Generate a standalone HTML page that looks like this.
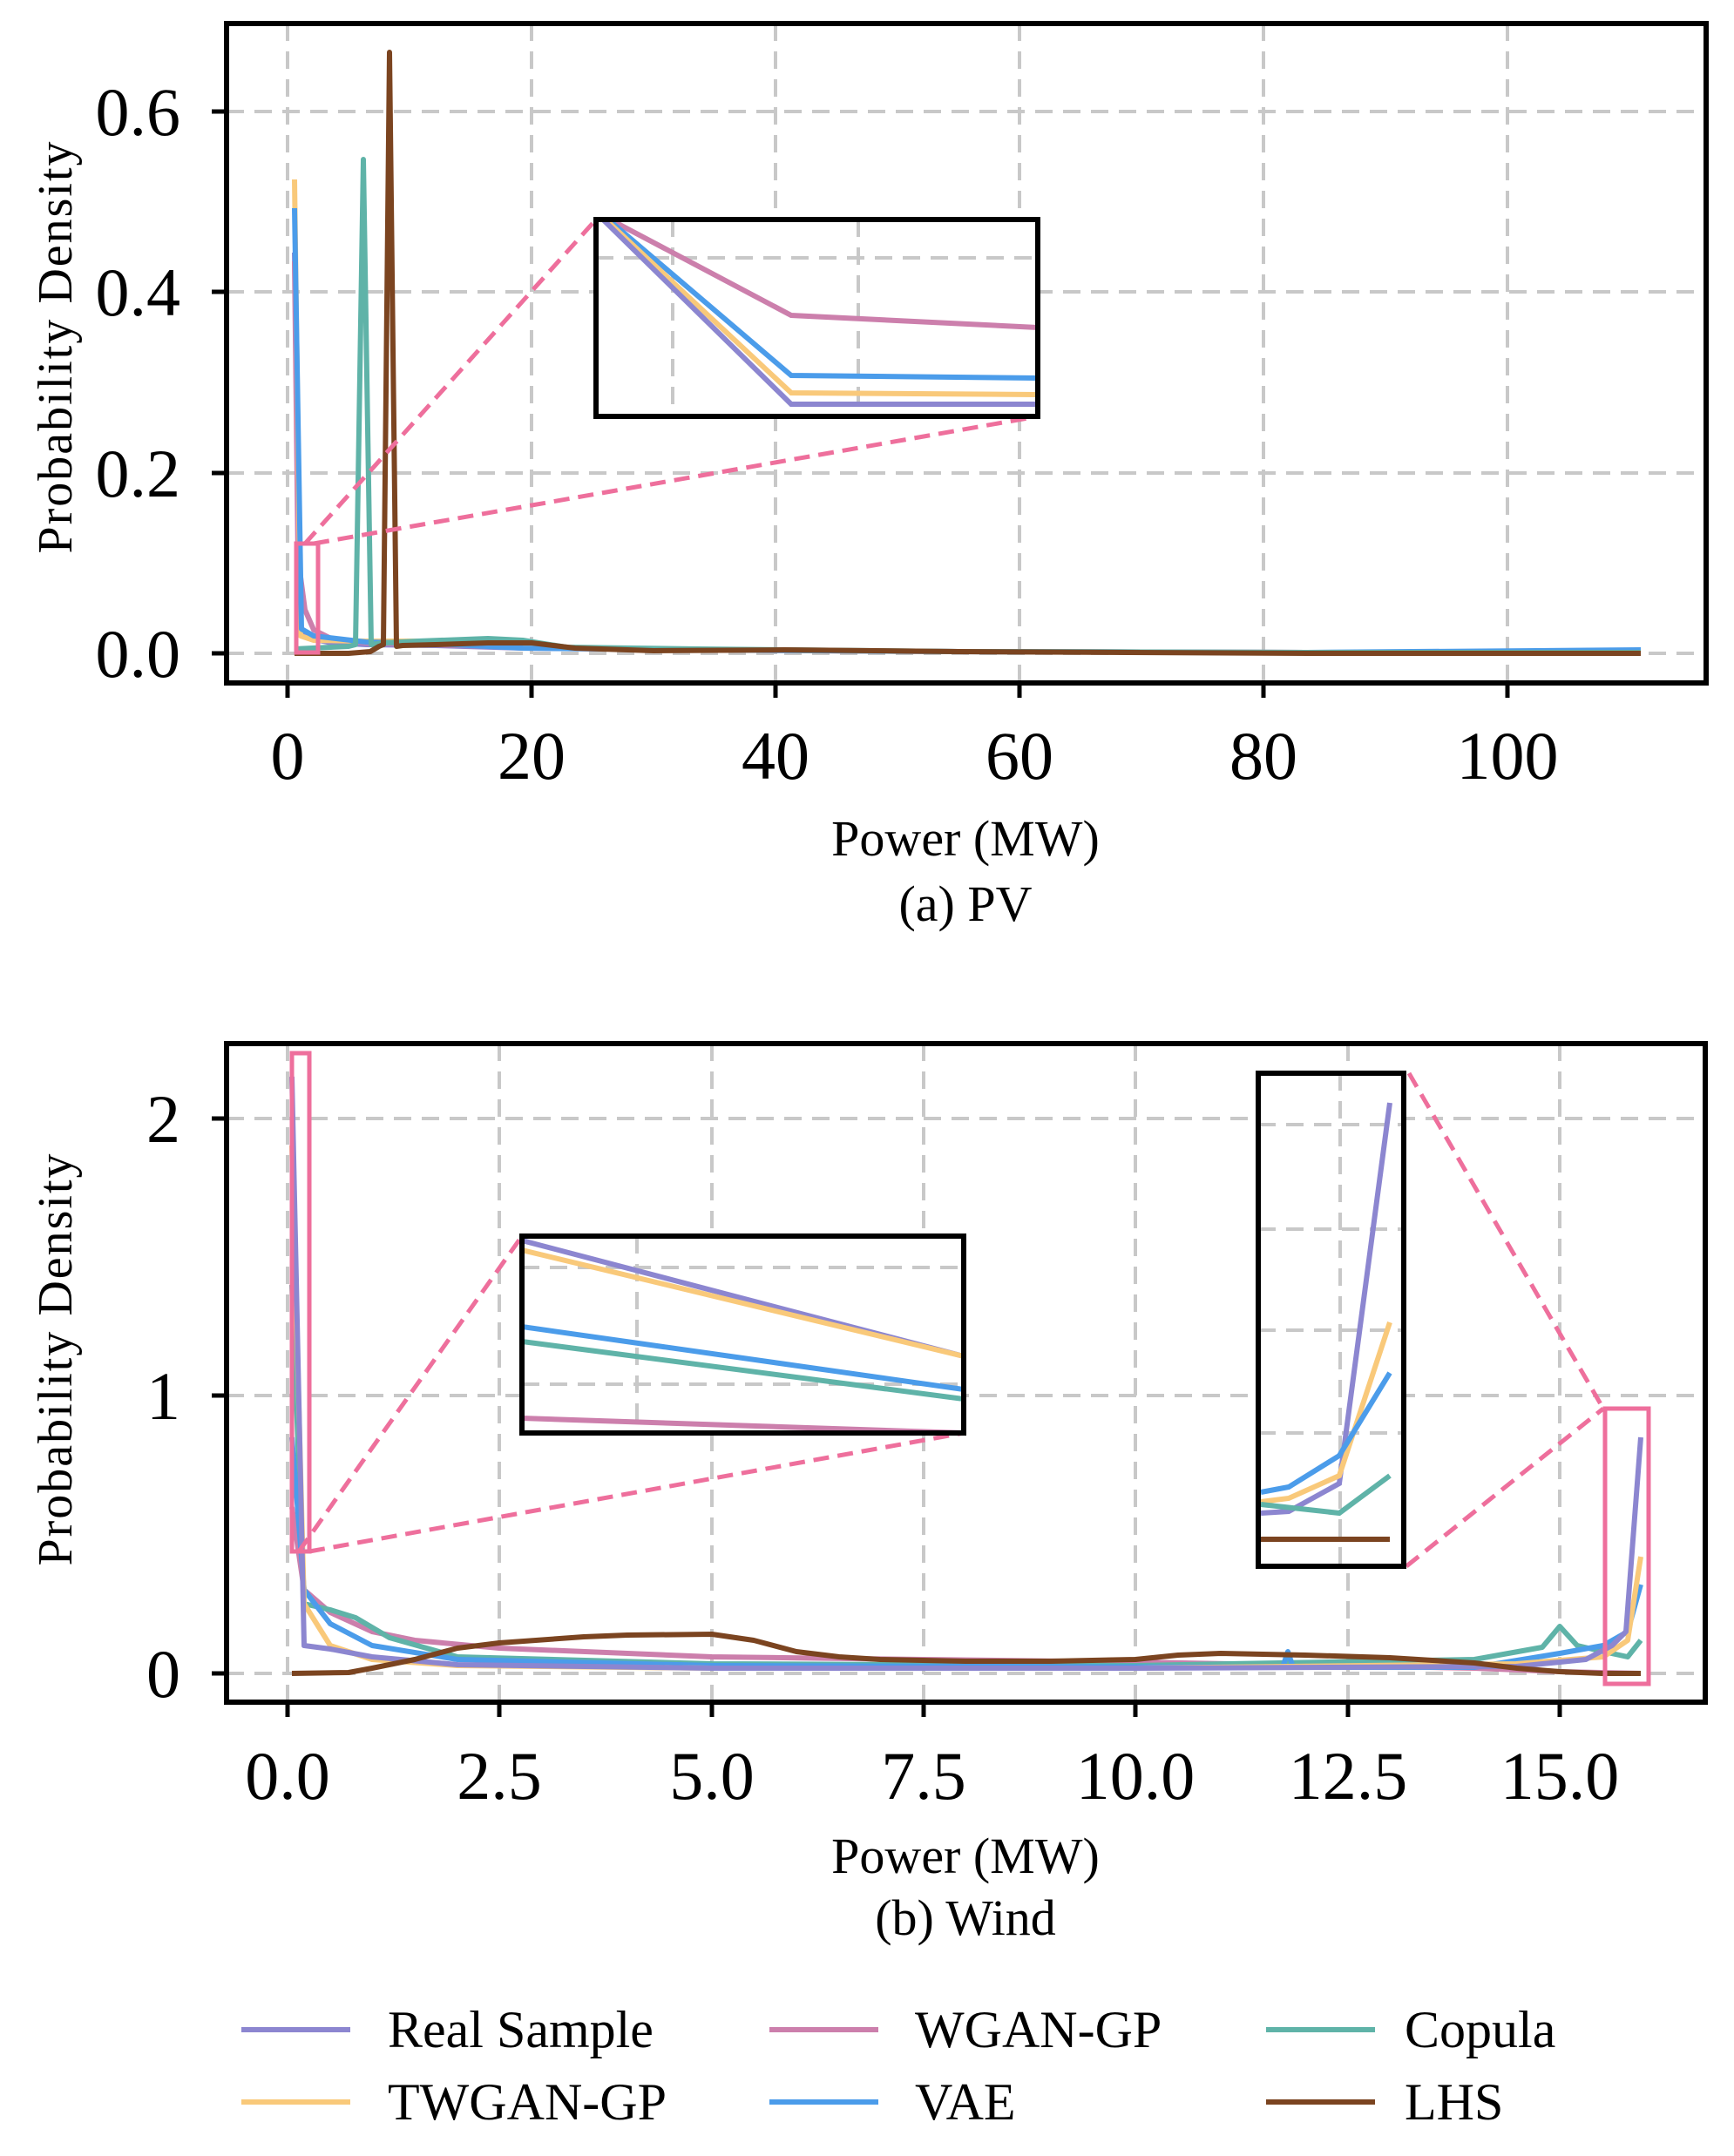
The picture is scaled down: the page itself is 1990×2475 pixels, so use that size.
<!DOCTYPE html>
<html><head><meta charset="utf-8"><style>
html,body{margin:0;padding:0;background:#fff}
svg{display:block}
text{font-family:"Liberation Serif",serif;fill:#000}
</style></head><body>
<svg width="1990" height="2475" viewBox="0 0 1990 2475" xmlns="http://www.w3.org/2000/svg">
<defs>
<clipPath id="c1"><rect x="260" y="27" width="1698" height="757"/></clipPath>
<clipPath id="c2"><rect x="260" y="1198" width="1697" height="756"/></clipPath>
<clipPath id="i1"><rect x="684" y="252" width="507" height="226"/></clipPath>
<clipPath id="i2"><rect x="599" y="1419" width="507" height="226"/></clipPath>
<clipPath id="i3"><rect x="1444" y="1232" width="167" height="566"/></clipPath>
</defs>
<g stroke="#c8c8c8" stroke-width="4" stroke-dasharray="20,12" fill="none">
<path d="M330 27V784M610 27V784M890 27V784M1170 27V784M1450 27V784M1730 27V784"/>
<path d="M260 128H1958M260 335H1958M260 543H1958M260 750H1958"/>
<path d="M330 1198V1954M573 1198V1954M817 1198V1954M1060 1198V1954M1303 1198V1954M1547 1198V1954M1790 1198V1954"/>
<path d="M260 1284H1957M260 1602H1957M260 1921H1957"/>
</g>
<g clip-path="url(#c1)" fill="none" stroke-width="6" stroke-linejoin="round">
<polyline stroke="#8c86d0" points="338,290 345,728 356,733 380,738 420,740 500,741 600,744 800,746 1100,748 1500,749 1883,749"/>
<polyline stroke="#cc7fac" points="338,300 342,640 350,700 360,723 380,733 420,738 500,740 600,743 800,746 1100,748 1500,749 1883,749"/>
<polyline stroke="#f9c97a" points="338,206 345,730 360,735 420,736 500,736 560,738 650,744 800,746 1100,748 1500,749 1883,749"/>
<polyline stroke="#4b9cea" points="338,239 346,722 360,730 420,737 500,739 600,744 800,746 1100,748 1500,749 1883,746"/>
<polyline stroke="#5fb3a8" points="338,745 400,742 408,740 417,183 426,740 440,738 480,736 560,733 600,735 650,743 800,745 1100,748 1500,749 1883,749"/>
<polyline stroke="#7b4420" points="338,750 400,750 425,748 435,742 440,740 447,60 455,742 462,741 500,740 560,738 610,738 660,744 750,747 900,746 1100,748 1500,750 1883,750"/>
</g>
<rect x="340" y="624" width="25" height="125" fill="none" stroke="#ee6f9c" stroke-width="5"/>
<g stroke="#ee6f9c" stroke-width="5" stroke-dasharray="18,10" fill="none">
<path d="M350 624L684 252M360 624L1191 478"/>
</g>
<rect x="684" y="252" width="507" height="226" fill="#fff"/>
<g clip-path="url(#i1)" fill="none">
<path d="M772 252V478M985 252V478M684 296H1191" stroke="#c8c8c8" stroke-width="4" stroke-dasharray="20,12"/>
<g stroke-width="6">
<polyline stroke="#cc7fac" points="700,252 908,362 1191,376"/>
<polyline stroke="#4b9cea" points="698,252 908,431 1191,434"/>
<polyline stroke="#f9c97a" points="695,252 908,451 1191,453"/>
<polyline stroke="#8c86d0" points="692,252 908,464 1191,464"/>
</g></g>
<rect x="684" y="252" width="507" height="226" fill="none" stroke="#000" stroke-width="6"/>
<rect x="260" y="27" width="1698" height="757" fill="none" stroke="#000" stroke-width="6"/>
<g stroke="#000" stroke-width="5">
<path d="M243 128H260M243 335H260M243 543H260M243 750H260"/>
<path d="M330 784V801M610 784V801M890 784V801M1170 784V801M1450 784V801M1730 784V801"/>
</g>
<g font-size="78" text-anchor="end">
<text x="207" y="155">0.6</text><text x="207" y="362">0.4</text><text x="207" y="570">0.2</text><text x="207" y="777">0.0</text>
</g>
<g font-size="78" text-anchor="middle">
<text x="330" y="894">0</text><text x="610" y="894">20</text><text x="890" y="894">40</text><text x="1170" y="894">60</text><text x="1450" y="894">80</text><text x="1730" y="894">100</text>
</g>
<text x="1108" y="982" font-size="58" text-anchor="middle">Power (MW)</text>
<text x="1108" y="1057" font-size="58" text-anchor="middle">(a) PV</text>
<text transform="translate(82,398) rotate(-90)" font-size="56" text-anchor="middle" letter-spacing="2">Probability Density</text>

<g clip-path="url(#c2)" fill="none" stroke-width="6" stroke-linejoin="round">
<polyline stroke="#cc7fac" points="335,1730 349,1825 379,1851 427,1873 476,1883 573,1892 817,1902 1303,1908 1692,1915 1790,1919 1883,1921"/>
<polyline stroke="#5fb3a8" points="335,1475 349,1841 379,1848 408,1857 447,1880 525,1902 817,1910 1303,1912 1692,1905 1770,1891 1790,1867 1810,1889 1840,1896 1868,1902 1883,1883"/>
<polyline stroke="#4b9cea" points="335,1650 349,1825 379,1864 427,1889 525,1905 817,1912 1472,1914 1478,1896 1484,1914 1692,1914 1790,1898 1840,1889 1868,1873 1883,1819"/>
<polyline stroke="#f9c97a" points="335,1315 349,1841 379,1889 427,1905 525,1912 817,1915 1303,1915 1740,1910 1840,1902 1868,1883 1883,1787"/>
<polyline stroke="#8c86d0" points="335,1236 349,1889 379,1893 427,1902 525,1911 817,1915 1303,1915 1740,1913 1820,1905 1850,1889 1866,1873 1883,1650"/>
<polyline stroke="#7b4420" points="335,1921 400,1920 427,1915 476,1905 525,1892 573,1886 670,1879 720,1877 817,1876 865,1883 914,1896 963,1902 1010,1905 1108,1907 1206,1907 1303,1905 1352,1900 1401,1898 1498,1900 1595,1903 1692,1909 1741,1915 1790,1919 1838,1921 1883,1921"/>
</g>
<rect x="335" y="1209" width="20" height="572" fill="none" stroke="#ee6f9c" stroke-width="5"/>
<rect x="1842" y="1617" width="50" height="316" fill="none" stroke="#ee6f9c" stroke-width="5"/>
<g stroke="#ee6f9c" stroke-width="5" stroke-dasharray="18,10" fill="none">
<path d="M343 1781L599 1419M355 1781L1106 1645M1617 1232L1840 1617M1614 1798L1840 1617"/>
</g>
<rect x="599" y="1419" width="507" height="226" fill="#fff"/>
<g clip-path="url(#i2)" fill="none">
<path d="M731 1419V1645M599 1455H1106M599 1589H1106" stroke="#c8c8c8" stroke-width="4" stroke-dasharray="20,12"/>
<g stroke-width="6">
<polyline stroke="#8c86d0" points="599,1424 1106,1557"/>
<polyline stroke="#f9c97a" points="599,1435 1106,1557"/>
<polyline stroke="#4b9cea" points="599,1523 1106,1595"/>
<polyline stroke="#5fb3a8" points="599,1540 1106,1606"/>
<polyline stroke="#cc7fac" points="599,1628 1106,1645"/>
</g></g>
<rect x="599" y="1419" width="507" height="226" fill="none" stroke="#000" stroke-width="6"/>
<rect x="1444" y="1232" width="167" height="566" fill="#fff"/>
<g clip-path="url(#i3)" fill="none">
<path d="M1538 1232V1798M1444 1291H1611M1444 1411H1611M1444 1527H1611M1444 1645H1611" stroke="#c8c8c8" stroke-width="4" stroke-dasharray="20,12"/>
<g stroke-width="6">
<polyline stroke="#8c86d0" points="1447,1737 1479,1735 1537,1703 1595,1266"/>
<polyline stroke="#f9c97a" points="1447,1724 1479,1720 1537,1694 1595,1518"/>
<polyline stroke="#4b9cea" points="1447,1713 1479,1707 1537,1671 1595,1576"/>
<polyline stroke="#5fb3a8" points="1447,1727 1537,1737 1595,1694"/>
<polyline stroke="#7b4420" points="1447,1767 1595,1767"/>
</g></g>
<rect x="1444" y="1232" width="167" height="566" fill="none" stroke="#000" stroke-width="6"/>
<rect x="260" y="1198" width="1697" height="756" fill="none" stroke="#000" stroke-width="6"/>
<g stroke="#000" stroke-width="5">
<path d="M243 1284H260M243 1602H260M243 1921H260"/>
<path d="M330 1954V1971M573 1954V1971M817 1954V1971M1060 1954V1971M1303 1954V1971M1547 1954V1971M1790 1954V1971"/>
</g>
<g font-size="78" text-anchor="end">
<text x="207" y="1311">2</text><text x="207" y="1629">1</text><text x="207" y="1948">0</text>
</g>
<g font-size="78" text-anchor="middle">
<text x="330" y="2065">0.0</text><text x="573" y="2065">2.5</text><text x="817" y="2065">5.0</text><text x="1060" y="2065">7.5</text><text x="1303" y="2065">10.0</text><text x="1547" y="2065">12.5</text><text x="1790" y="2065">15.0</text>
</g>
<text x="1108" y="2150" font-size="58" text-anchor="middle">Power (MW)</text>
<text x="1108" y="2221" font-size="58" text-anchor="middle">(b) Wind</text>
<text transform="translate(82,1560) rotate(-90)" font-size="56" text-anchor="middle" letter-spacing="2">Probability Density</text>

<g stroke-width="6">
<path d="M277 2330H402" stroke="#8c86d0"/><path d="M883 2330H1008" stroke="#cc7fac"/><path d="M1453 2330H1578" stroke="#5fb3a8"/>
<path d="M277 2413H402" stroke="#f9c97a"/><path d="M883 2413H1008" stroke="#4b9cea"/><path d="M1453 2413H1578" stroke="#7b4420"/>
</g>
<g font-size="60">
<text x="445" y="2350">Real Sample</text><text x="1050" y="2350">WGAN-GP</text><text x="1612" y="2350">Copula</text>
<text x="445" y="2433">TWGAN-GP</text><text x="1050" y="2433">VAE</text><text x="1612" y="2433">LHS</text>
</g>
</svg>
</body></html>
